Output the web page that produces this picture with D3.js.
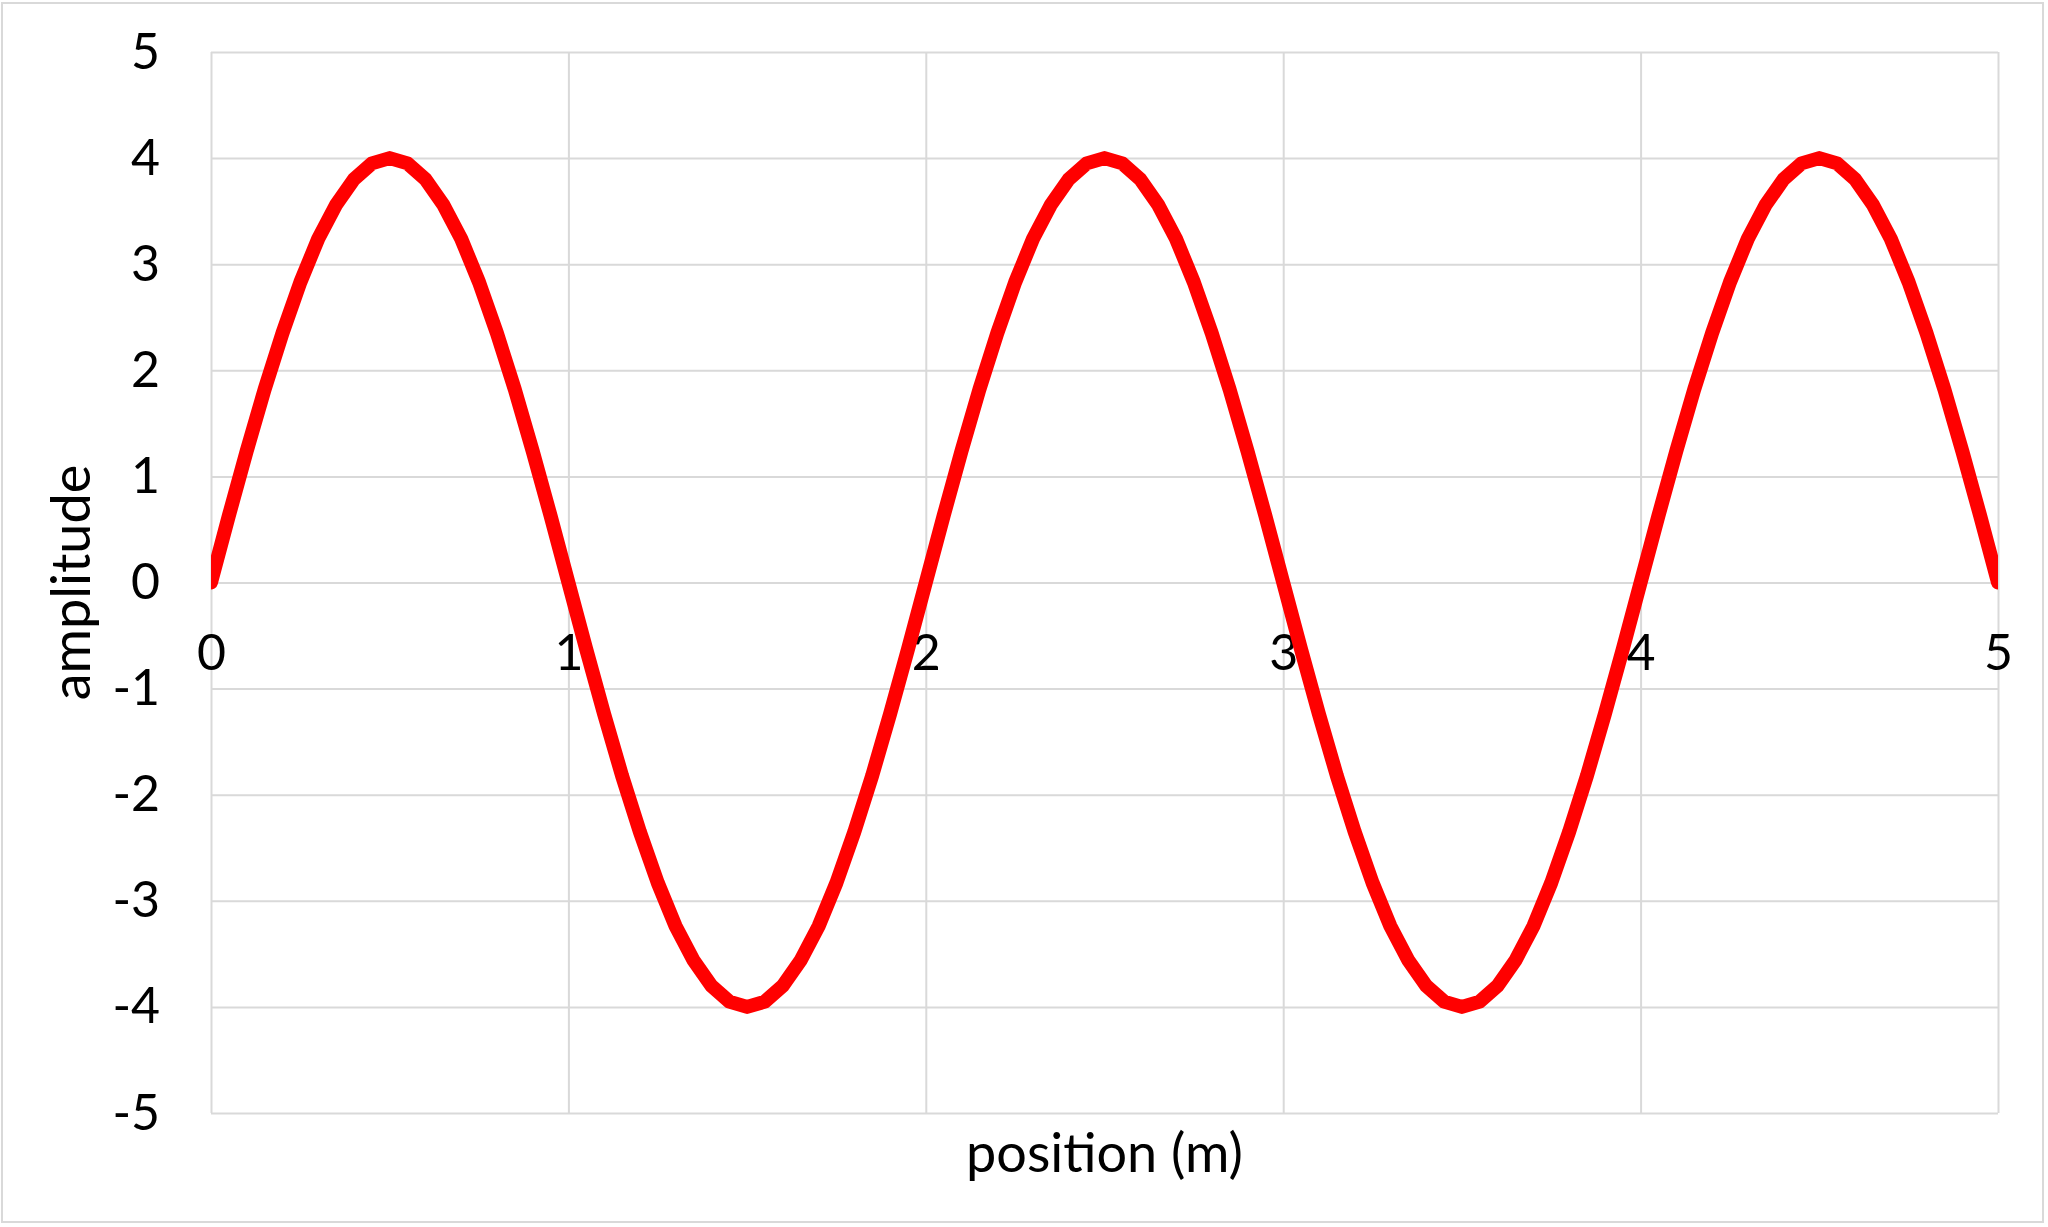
<!DOCTYPE html>
<html>
<head>
<meta charset="utf-8">
<script src="https://cdn.jsdelivr.net/npm/d3@7"></script>
<style>
  body { margin: 0; background: #fff; }
  text { font-family: Lato, "Open Sans", sans-serif; fill: #000; }
</style>
</head>
<body>
<div id="chart"></div>
<script>
// wave, one point every 0.05 m
const position = [
  0, 0.05, 0.1, 0.15, 0.2, 0.25, 0.3, 0.35, 0.4, 0.45,
  0.5, 0.55, 0.6, 0.65, 0.7, 0.75, 0.8, 0.85, 0.9, 0.95,
  1, 1.05, 1.1, 1.15, 1.2, 1.25, 1.3, 1.35, 1.4, 1.45,
  1.5, 1.55, 1.6, 1.65, 1.7, 1.75, 1.8, 1.85, 1.9, 1.95,
  2, 2.05, 2.1, 2.15, 2.2, 2.25, 2.3, 2.35, 2.4, 2.45,
  2.5, 2.55, 2.6, 2.65, 2.7, 2.75, 2.8, 2.85, 2.9, 2.95,
  3, 3.05, 3.1, 3.15, 3.2, 3.25, 3.3, 3.35, 3.4, 3.45,
  3.5, 3.55, 3.6, 3.65, 3.7, 3.75, 3.8, 3.85, 3.9, 3.95,
  4, 4.05, 4.1, 4.15, 4.2, 4.25, 4.3, 4.35, 4.4, 4.45,
  4.5, 4.55, 4.6, 4.65, 4.7, 4.75, 4.8, 4.85, 4.9, 4.95,
  5
];
const amplitude = [
  0, 0.63, 1.24, 1.82, 2.35, 2.83, 3.24, 3.56, 3.8, 3.95,
  4, 3.95, 3.8, 3.56, 3.24, 2.83, 2.35, 1.82, 1.24, 0.63,
  0, -0.63, -1.24, -1.82, -2.35, -2.83, -3.24, -3.56, -3.8, -3.95,
  -4, -3.95, -3.8, -3.56, -3.24, -2.83, -2.35, -1.82, -1.24, -0.63,
  0, 0.63, 1.24, 1.82, 2.35, 2.83, 3.24, 3.56, 3.8, 3.95,
  4, 3.95, 3.8, 3.56, 3.24, 2.83, 2.35, 1.82, 1.24, 0.63,
  0, -0.63, -1.24, -1.82, -2.35, -2.83, -3.24, -3.56, -3.8, -3.95,
  -4, -3.95, -3.8, -3.56, -3.24, -2.83, -2.35, -1.82, -1.24, -0.63,
  0, 0.63, 1.24, 1.82, 2.35, 2.83, 3.24, 3.56, 3.8, 3.95,
  4, 3.95, 3.8, 3.56, 3.24, 2.83, 2.35, 1.82, 1.24, 0.63,
  0
];
const xTicks = [0, 1, 2, 3, 4, 5];
const yTicks = [-5, -4, -3, -2, -1, 0, 1, 2, 3, 4, 5];
const xTitle = "position (m)";
const yTitle = "amplitude";

const width = 2048;
const height = 1227;
const plotLeft = 211, plotRight = 1998, plotTop = 52, plotBottom = 1113;
const gridColor = "#d9d9d9";
const tickText = d => String(d);   // plain hyphen, no decimals

const data = position.map((p, i) => ({ x: p, y: amplitude[i] }));

const xScale = d3.scaleLinear().domain([0, 5]).range([plotLeft, plotRight]);
const yScale = d3.scaleLinear().domain([-5, 5]).range([plotBottom, plotTop]);

const svg = d3.select("#chart")
  .append("svg")
  .attr("width", width)
  .attr("height", height);

// chart frame
svg.append("rect")
  .attr("x", 2).attr("y", 3)
  .attr("width", 2041).attr("height", 1219)
  .attr("fill", "#fff")
  .attr("stroke", gridColor)
  .attr("stroke-width", 2);

// gridlines
const yGrid = d3.axisLeft(yScale).tickValues(yTicks).tickSize(-(plotRight - plotLeft)).tickFormat("");
svg.append("g")
  .attr("class", "grid")
  .attr("transform", `translate(${plotLeft},0)`)
  .call(yGrid);

const xGrid = d3.axisBottom(xScale).tickValues(xTicks).tickSize(-(plotBottom - plotTop)).tickFormat("");
svg.append("g")
  .attr("class", "grid")
  .attr("transform", `translate(0,${plotBottom})`)
  .call(xGrid);

svg.selectAll(".grid .domain").remove();
svg.selectAll(".grid line")
  .attr("stroke", gridColor)
  .attr("stroke-width", 2);

// y tick labels
const yAxis = d3.axisLeft(yScale).tickValues(yTicks).tickFormat(tickText).tickSize(0).tickPadding(51);
const yg = svg.append("g")
  .attr("transform", `translate(${plotLeft},0)`)
  .call(yAxis);
yg.select(".domain").remove();
yg.selectAll("text")
  .attr("font-size", 50)
  .attr("font-family", "Lato, 'Open Sans', sans-serif")
  .attr("fill", "#000");

// x tick labels sit under the zero line
const xAxis = d3.axisBottom(xScale).tickValues(xTicks).tickFormat(tickText).tickSize(0).tickPadding(52);
const xg = svg.append("g")
  .attr("transform", `translate(0,${yScale(0)})`)
  .call(xAxis);
xg.select(".domain").remove();
xg.selectAll("text")
  .attr("font-size", 50)
  .attr("font-family", "Lato, 'Open Sans', sans-serif")
  .attr("fill", "#000");

// axis titles
svg.append("text")
  .attr("x", (plotLeft + plotRight) / 2)
  .attr("y", 1172)
  .attr("text-anchor", "middle")
  .attr("font-size", 54)
  .text(xTitle);

svg.append("text")
  .attr("transform", `translate(90,${(plotTop + plotBottom) / 2}) rotate(-90)`)
  .attr("text-anchor", "middle")
  .attr("font-size", 54)
  .text(yTitle);

// wave, clipped to the plot area
svg.append("clipPath")
  .attr("id", "plot-clip")
  .append("rect")
  .attr("x", plotLeft).attr("y", plotTop)
  .attr("width", plotRight - plotLeft).attr("height", plotBottom - plotTop);

const line = d3.line()
  .x(d => xScale(d.x))
  .y(d => yScale(d.y));

svg.append("path")
  .datum(data)
  .attr("clip-path", "url(#plot-clip)")
  .attr("fill", "none")
  .attr("stroke", "#ff0000")
  .attr("stroke-width", 14)
  .attr("stroke-linejoin", "round")
  .attr("stroke-linecap", "round")
  .attr("d", line);
</script>
</body>
</html>
